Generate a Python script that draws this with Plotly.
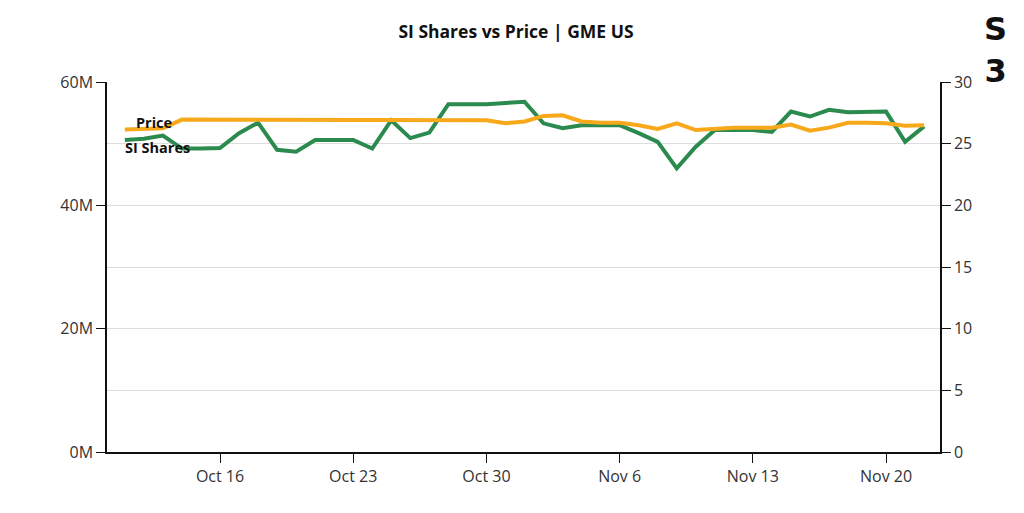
import pandas as pd
import plotly.graph_objects as go

dates = pd.date_range("2023-10-11", "2023-11-22", freq="D")

si_shares_m = [50.6, 50.8, 51.3, 49.2, 49.2, 49.3, 51.7, 53.4, 49.0, 48.7,
               50.6, 50.6, 50.6, 49.2, 53.8, 50.9, 51.8, 56.4, 56.4, 56.4,
               56.6, 56.8, 53.3, 52.5, 53.0, 53.0, 53.0, 51.7, 50.3, 46.0,
               49.5, 52.2, 52.2, 52.2, 51.9, 55.2, 54.4, 55.5, 55.1, 55.1,
               55.2, 50.3, 52.8]

price = [26.15, 26.2, 26.25, 26.95, 26.95, 26.95, 26.95, 26.95, 26.95, 26.95,
         26.95, 26.95, 26.95, 26.9, 26.9, 26.9, 26.9, 26.9, 26.9, 26.9,
         26.65, 26.8, 27.25, 27.3, 26.8, 26.7, 26.7, 26.5, 26.2, 26.65,
         26.1, 26.2, 26.3, 26.3, 26.3, 26.55, 26.05, 26.3, 26.7, 26.7,
         26.65, 26.45, 26.5]

left_ticks = [0, 20, 40, 60]
left_labels = ["0M", "20M", "40M", "60M"]

ORANGE = "#F7A81B"
GREEN = "#2B8A4E"
FONT = "Open Sans"

# page body has an 8px offset; compensate
W, H = 1016, 505
ML, MR, MT, MB = 99, 84, 74, 61

fig = go.Figure()
fig.add_trace(go.Scatter(x=dates, y=price, yaxis="y2", mode="lines",
                         line=dict(color=ORANGE, width=4), name="Price",
                         showlegend=False))
fig.add_trace(go.Scatter(x=dates, y=[v * 1e6 for v in si_shares_m], yaxis="y",
                         mode="lines", line=dict(color=GREEN, width=4),
                         name="SI Shares", showlegend=False))

axis_common = dict(showline=True, linecolor="#111111", linewidth=1.5,
                   ticks="outside", ticklen=9, tickcolor="#111111",
                   zeroline=False)

fig.update_layout(
    width=W, height=H,
    margin=dict(l=ML, r=MR, t=MT, b=MB),
    paper_bgcolor="white", plot_bgcolor="white",
    font=dict(family=FONT, size=16, color="#333333"),
    title=dict(text="<b>SI Shares vs Price | GME US</b>", x=0.5, xanchor="center",
               y=1 - (32 - 8) / H, yanchor="middle",
               font=dict(family=FONT, size=17.5, color="#111111")),
    xaxis=dict(
        type="date",
        range=["2023-10-10 01:30", "2023-11-22 20:00"],
        tick0="2023-10-16", dtick=7 * 24 * 3600 * 1000,
        tickformat="%b %-d",
        showgrid=False, **axis_common,
    ),
    yaxis=dict(
        range=[0, 60e6],
        tickvals=[v * 1e6 for v in left_ticks], ticktext=left_labels,
        showgrid=False, **axis_common,
    ),
    yaxis2=dict(
        range=[0, 30], dtick=5, overlaying="y", side="right",
        showgrid=True, gridcolor="#DDDDDD", gridwidth=1, **axis_common,
    ),
)

fig.add_annotation(x="2023-10-11 12:00", y=26.75, xref="x", yref="y2",
                   text="<b>Price</b>", showarrow=False, xanchor="left",
                   font=dict(family=FONT, size=14.5, color="#111111"))
fig.add_annotation(x="2023-10-10 22:00", y=49.4e6, xref="x", yref="y",
                   text="<b>SI Shares</b>", showarrow=False, xanchor="left",
                   font=dict(family=FONT, size=14.5, color="#111111"))

# logo (S over 3)
pw = W - ML - MR
ph = H - MT - MB
fig.add_annotation(x=(995 - 8 - ML) / pw, y=(H - MB - (50 - 8)) / ph,
                   xref="paper", yref="paper", text="<b>S<br>3</b>",
                   showarrow=False, xanchor="center", yanchor="middle",
                   borderpad=0,
                   font=dict(family="DejaVu Sans", size=32, color="#111111"))

fig.write_html("out.html")
